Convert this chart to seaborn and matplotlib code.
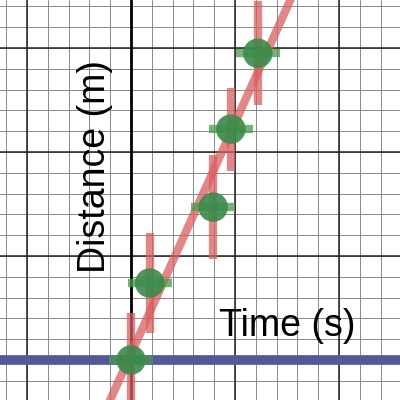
import matplotlib
matplotlib.use("Agg")
import matplotlib.pyplot as plt
import seaborn as sns
import numpy as np

t = [0.0, 0.18, 0.79, 0.96, 1.22]
d = [0.0, 0.74, 1.47, 2.22, 2.95]
t_err = [0.21, 0.21, 0.21, 0.21, 0.21]
d_err = [0.45, 0.48, 0.5, 0.4, 0.5]
fit_slope, fit_icpt = 2.22, 0.06

sns.set_style("white")
plt.rcParams['font.family'] = ['Liberation Sans', 'DejaVu Sans']
fig = plt.figure(figsize=(4, 4), dpi=100)
ax = fig.add_axes([0, 0, 1, 1])
x0, x1, y0, y1 = -1.26, 2.587, -0.385, 3.462
ax.set_xlim(x0, x1); ax.set_ylim(y0, y1)
for v in np.arange(-1.2, 2.7, 0.2):
    ax.axvline(v, color="#888", lw=0.7, zorder=0)
for v in np.arange(-0.4, 3.5, 0.2):
    ax.axhline(v, color="#888", lw=0.7, zorder=0)
for v in [-1, 1, 2]:
    ax.axvline(v, color="#222", lw=1.1, zorder=0)
for v in [1, 2, 3]:
    ax.axhline(v, color="#222", lw=1.1, zorder=0)
ax.axvline(0, color="black", lw=2, zorder=1)
ax.axhline(0, color="#56589a", lw=7, zorder=2)
xs = np.array([x0, x1])
ax.plot(xs, fit_slope * xs + fit_icpt, color="#d95f5f", alpha=0.75, lw=6, zorder=3)
ax.errorbar(t, d, yerr=d_err, fmt="none", ecolor="#d95f5f", alpha=0.75, elinewidth=6, zorder=4)
ax.errorbar(t, d, xerr=t_err, fmt="none", ecolor="#4a9a4a", alpha=0.75, elinewidth=6, zorder=5)
sns.scatterplot(x=t, y=d, s=450, color="#3b8a4a", alpha=0.9, edgecolor="none", ax=ax, zorder=6)
ax.text(1.5, 0.33, "Time (s)", fontsize=27, color="black", ha="center", va="center", zorder=7)
ax.text(-0.35, 1.86, "Distance (m)", fontsize=27, color="black", rotation=90, ha="center", va="center", zorder=7)
ax.set_xticks([]); ax.set_yticks([])
for s in ax.spines.values():
    s.set_visible(False)
fig.savefig("out.png", dpi=100)
